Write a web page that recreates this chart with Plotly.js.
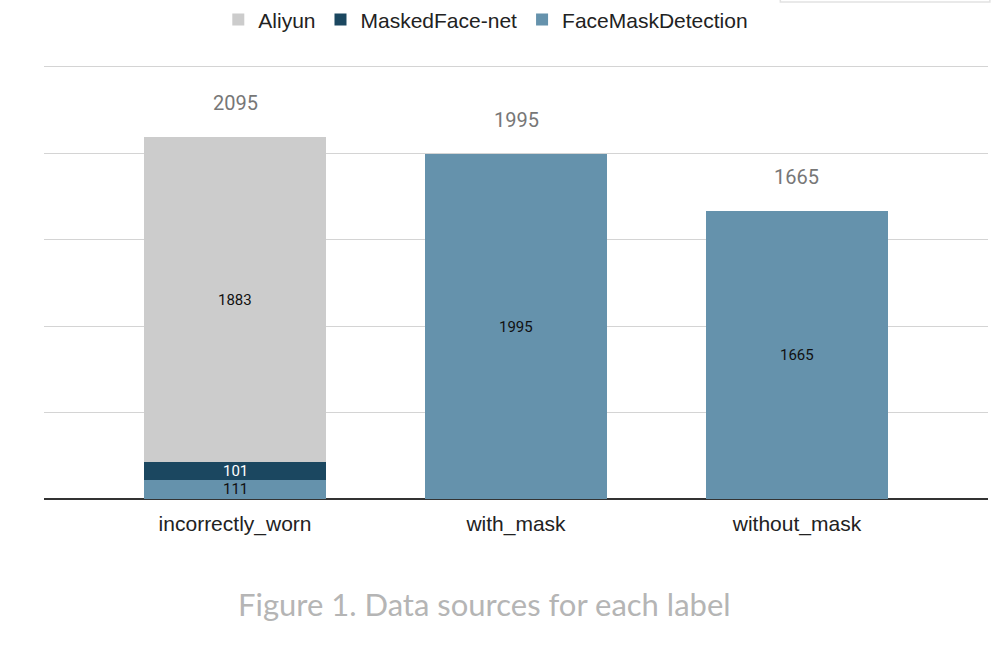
<!DOCTYPE html>
<html>
<head>
<meta charset="utf-8">
<script src="https://cdn.plot.ly/plotly-3.0.1.min.js"></script>
<style>
  html, body { margin: 0; padding: 0; background: #fff; }
  #chart { width: 1006px; height: 668px; }
</style>
</head>
<body>
<div id="chart"></div>
<script>
const labels = ['incorrectly_worn', 'with_mask', 'without_mask'];
const aliyun = [1883, 0, 0];
const maskedFaceNet = [101, 0, 0];
const faceMaskDetection = [111, 1995, 1665];

// stacking order, bottom to top
const series = [
    {name: 'FaceMaskDetection', vals: faceMaskDetection, color: '#6592ac', text: '#111', rank: 3},
    {name: 'MaskedFace-net', vals: maskedFaceNet, color: '#1b4760', text: '#fff', rank: 2},
    {name: 'Aliyun', vals: aliyun, color: '#cccccc', text: '#111', rank: 1}
];

const totals = labels.map((_, i) => series.reduce((s, t) => s + t.vals[i], 0));

const data = series.map(s => ({
    type: 'bar',
    name: s.name,
    x: labels,
    y: s.vals,
    marker: {color: s.color},
    legendrank: s.rank,
    hoverinfo: 'x+y+name'
}));

// segment labels at the middle of each stacked piece
const segNotes = [];
labels.forEach((lab, i) => {
    let base = 0;
    series.forEach(s => {
        const v = s.vals[i];
        if (v) {
            segNotes.push({
                x: lab, y: base + v / 2, xref: 'x', yref: 'y',
                text: String(v), showarrow: false,
                font: {family: 'Roboto, Arial, sans-serif', size: 15, color: s.text}
            });
        }
        base += v;
    });
});

const totalNotes = labels.map((lab, i) => ({
    x: lab, y: totals[i], xref: 'x', yref: 'y',
    text: String(totals[i]), showarrow: false,
    yanchor: 'bottom', yshift: 20,
    font: {family: 'Roboto, Arial, sans-serif', size: 20, color: '#777'}
}));

const caption = {
    xref: 'paper', yref: 'paper', x: 0.467, y: -0.243,
    text: 'Figure 1. Data sources for each label', showarrow: false,
    xanchor: 'center', yanchor: 'middle',
    font: {family: 'Lato, "Noto Sans", sans-serif', size: 31, color: '#b5b5b5'}
};

const layout = {
    width: 1006, height: 668,
    margin: {l: 44, r: 18, t: 65, b: 169, autoexpand: false},
    paper_bgcolor: '#fff', plot_bgcolor: '#fff',
    barmode: 'stack',
    bargap: 0.35,
    font: {family: '"Liberation Sans", Arial, sans-serif', color: '#222'},
    showlegend: true,
    legend: {
        orientation: 'h', xref: 'paper', yref: 'paper', traceorder: 'normal',
        x: 0.468, xanchor: 'center', y: 1.104, yanchor: 'middle',
        font: {size: 21, color: '#222'}
    },
    xaxis: {
        range: [-0.68, 2.68], showgrid: false, showline: false,
        automargin: false, tickangle: 0,
        ticks: '', tickfont: {size: 21, color: '#222'}, ticklabelstandoff: 10
    },
    yaxis: {
        range: [0, 2510], dtick: 500, showticklabels: false, automargin: false,
        gridcolor: '#d4d4d4', gridwidth: 1,
        zeroline: true, zerolinecolor: '#333', zerolinewidth: 1.5
    },
    annotations: segNotes.concat(totalNotes, [caption]),
    shapes: [{
        type: 'rect', xref: 'paper', yref: 'paper',
        x0: 0.78, x1: 1.002, y0: 1.145, y1: 1.3,
        line: {color: '#e2e2e2', width: 1.5}, fillcolor: '#fff'
    }]
};

Plotly.newPlot('chart', data, layout, {displayModeBar: false, staticPlot: true});
</script>
</body>
</html>
